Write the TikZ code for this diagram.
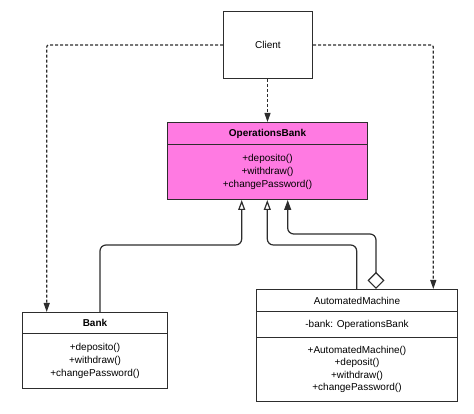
\documentclass[tikz,border=0pt]{standalone}
\usepackage{fontspec}
\setmainfont{Liberation Sans}
\usetikzlibrary{arrows.meta}
\definecolor{opsfill}{RGB}{255,122,226}
\definecolor{umlline}{RGB}{45,45,45}

\begin{document}
\begin{tikzpicture}[x=1pt,y=1pt,
    box/.style={draw=umlline,line width=1pt,inner sep=0pt,anchor=north west,align=center,font=\fontsize{10}{12.6}\selectfont},
    dep/.style={draw=umlline,line width=1.2pt,dash pattern=on 3pt off 2pt,rounded corners=2pt,-{Triangle[length=9pt,width=6pt]}},
    gen/.style={draw=umlline,line width=1.2pt,rounded corners=6pt,-{Triangle[open,length=10pt,width=7pt]}},
    agg/.style={draw=umlline,line width=1.2pt,rounded corners=6pt,{Diamond[open,length=17pt,width=17pt]}-{Triangle[length=10pt,width=7pt]}}]
\useasboundingbox (0,0) rectangle (474,414);
\node[box,minimum width=89,minimum height=67] (client) at (223,403) {Client};
\node[box,fill=opsfill,minimum width=200,minimum height=22] (opshead) at (167,292) {\textbf{OperationsBank}};
\node[box,fill=opsfill,minimum width=200,minimum height=55] (opsbody) at (167,270) {+deposito()\\+withdraw()\\+changePassword()};
\node[box,minimum width=145,minimum height=21] (bankhead) at (22,102) {\textbf{Bank}};
\node[box,minimum width=145,minimum height=55] (bankbody) at (22,81) {+deposito()\\+withdraw()\\+changePassword()};
\node[box,minimum width=201,minimum height=22] (atmhead) at (256,125) {AutomatedMachine};
\node[box,minimum width=201,minimum height=26] (atmattr) at (256,103) {-bank: OperationsBank};
\node[box,minimum width=201,minimum height=64] (atmbody) at (256,77) {+AutomatedMachine()\\+deposit()\\+withdraw()\\+changePassword()};
\coordinate (genlevel) at (0,169);
\coordinate (agglevel) at (0,180);
\coordinate (clientout) at ([xshift=-0.5pt]client.south);
\coordinate (bankout) at ([xshift=78pt]bankhead.north west);
\coordinate (bankin) at ([xshift=74.7pt]opsbody.south west);
\coordinate (atmout) at ([xshift=100.7pt]atmhead.north west);
\coordinate (atmin) at ([xshift=100.3pt]opsbody.south west);
\coordinate (aggout) at ([xshift=120pt]atmhead.north west);
\coordinate (aggin) at ([xshift=120.7pt]opsbody.south west);
\draw[dep] (client.west) -| ([xshift=24.7pt]bankhead.north west);
\draw[dep] (client.east) -| ([xshift=-24.7pt]atmhead.north east);
\draw[dep] (clientout) -- (clientout |- opshead.north);
\draw[gen] (bankout) -- (bankout |- genlevel) -| (bankin);
\draw[gen] (atmout) -- (atmout |- genlevel) -| (atmin);
\draw[agg] (aggout) -- (aggout |- agglevel) -| (aggin);
\end{tikzpicture}
\end{document}
